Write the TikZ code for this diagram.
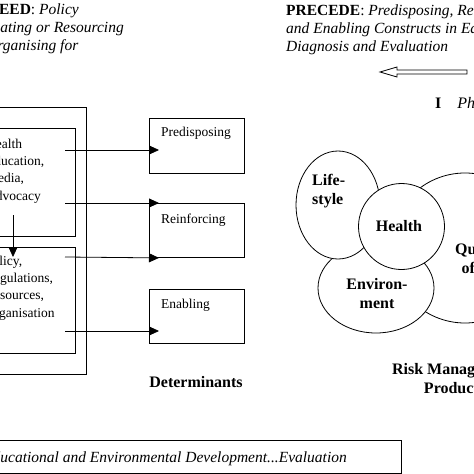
\documentclass[tikz,border=0pt]{standalone}
\usepackage{fontspec}
\setmainfont{Liberation Serif}
\usetikzlibrary{arrows.meta,positioning,shapes.geometric}

\tikzset{
  box/.style={draw, line width=0.8pt, rectangle, inner sep=0pt},
  blob/.style={draw, line width=0.8pt, fill=white, inner sep=0pt},
  arr/.style={line width=0.8pt, shorten >=-10pt, -{Triangle[length=10pt,width=9pt]}},
  hd/.style={font=\fontsize{15.5}{18}\selectfont, inner sep=0pt, align=left},
  txt/.style={font=\fontsize{13.5}{17.3}\selectfont, inner sep=0pt, align=left},
  lbl/.style={font=\fontsize{16}{19}\selectfont\bfseries, inner sep=0pt, align=center}
}

\begin{document}
\begin{tikzpicture}[x=1pt,y=-1pt]
\useasboundingbox (0,0) rectangle (474,474);
\clip (0,0) rectangle (474,474);

% headings (base = last line)
\node[hd, anchor=base west] (proceed1) at (-45,14) {\textbf{PROCEED}: \textit{Policy}};
\node[hd, anchor=base west] (proceed2) at (-36,32) {\textit{Regulating or Resourcing}};
\node[hd, anchor=base west] (proceed3) at (-41,50) {\textit{and Organising for}};
\node[hd, anchor=base west] (precede) at (286,51) {\textbf{PRECEDE}: \textit{Predisposing, Reinforcing}\\\textit{and Enabling Constructs in Educational}\\\textit{Diagnosis and Evaluation}};
\draw[line width=0.8pt] (467,70) -- (397,70) -- (397,67) -- (380,72) -- (397,77) -- (397,74) -- (467,74) -- cycle;
\node[lbl, anchor=base west] (phase) at (435,108) {I\quad{\mdseries\itshape Phase}};

% left side: PROCEED boxes
\node[box, anchor=north east, minimum width=150pt, minimum height=267pt] (proc) at (87,107) {};
\node[box, anchor=north east, minimum width=140pt, minimum height=108pt] (media) at (76,128) {};
\node[box, anchor=north east, minimum width=140pt, minimum height=106pt] (policy) at (76,247) {};
\node[txt, anchor=base west] (mediatext) at (-14,200) {Health\\Education,\\Media,\\Advocacy};
\node[txt, anchor=base west] (policytext) at (-15,317) {Policy,\\Regulations,\\Resources,\\Organisation};
\coordinate (d1) at (13,215);
\coordinate (d2) at (13,247);
\draw[arr] (d1) -- (d2);

% determinants
\node[box, anchor=north west, minimum width=95pt, minimum height=55pt] (pre) at (149,118) {};
\node[box, anchor=north west, minimum width=95pt, minimum height=54pt] (rei) at (149,203) {};
\node[box, anchor=north west, minimum width=95pt, minimum height=54pt] (ena) at (149,289) {};
\node[txt, anchor=base west] (pretext) at (161,136) {Predisposing};
\node[txt, anchor=base west] (reitext) at (161,223) {Reinforcing};
\node[txt, anchor=base west] (enatext) at (161,308) {Enabling};
\node[lbl, anchor=base] (det) at (196,387) {Determinants};

\coordinate (a1) at (65,150);
\coordinate (a2) at (65,203);
\coordinate (a3) at (65,257);
\coordinate (a4) at (65,331);
\draw[arr] (a1) -- (a1 -| pre.west);
\draw[arr] (a2) -- (rei.north west);
\draw[arr] (a3) -- (rei.south west);
\draw[arr] (a4) -- (a4 -| ena.west);

% risk management circles
\node[blob, circle, minimum size=150pt] (qol) at (465,248) {};
\node[blob, ellipse, minimum width=116pt, minimum height=90pt] (env) at (376,288) {};
\node[blob, ellipse, minimum width=84pt, minimum height=108pt] (life) at (338,205) {};
\node[blob, circle, minimum size=86pt] (health) at (401.5,226.5) {};
\node[lbl, anchor=base west, align=left] (lifetext) at (312,204) {Life-\\style};
\node[lbl, anchor=base] (healthtext) at (399,231) {Health};
\node[lbl, anchor=base] (envtext) at (377,308) {Environ-\\ment};
\node[lbl, anchor=base] (qoltext) at (481,273) {Quality\\of life};
\node[lbl, anchor=base] (risk) at (454.5,393) {Risk Management\\Products};

% evaluation bar
\node[box, anchor=north east, minimum width=450pt, minimum height=33pt] (eval) at (402,440) {};
\node[hd, anchor=base west] (evaltext) at (-17,462) {\textit{Educational and Environmental Development...Evaluation}};
\end{tikzpicture}
\end{document}
